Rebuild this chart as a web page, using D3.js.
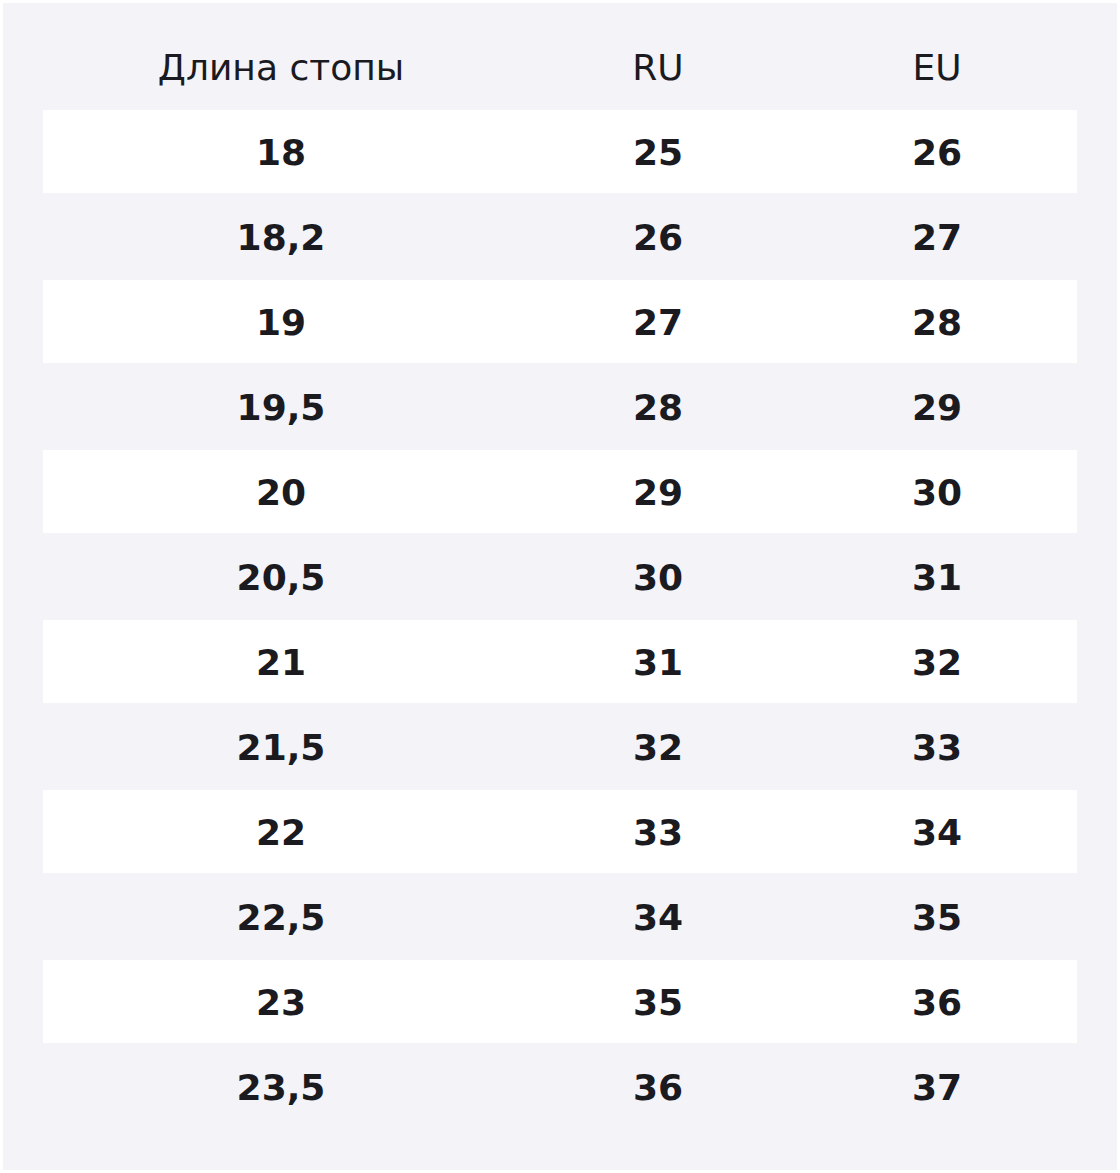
<!DOCTYPE html>
<html><head><meta charset="utf-8">
<script src="https://cdn.jsdelivr.net/npm/d3@7"></script>
<style>body{margin:0;background:#fff}</style>
</head><body>
<script>
// size table data
var headers = ["Длина стопы", "RU", "EU"];
var footLength = ["18", "18,2", "19", "19,5", "20", "20,5", "21", "21,5", "22", "22,5", "23", "23,5"];
var ruSizes = ["25", "26", "27", "28", "29", "30", "31", "32", "33", "34", "35", "36"];
var euSizes = ["26", "27", "28", "29", "30", "31", "32", "33", "34", "35", "36", "37"];

var W = 1120, H = 1173;
var svg = d3.select("body").append("svg").attr("width", W).attr("height", H);

svg.append("rect").attr("x", 3).attr("y", 3).attr("width", 1114).attr("height", 1167).attr("fill", "#f3f3f8");

var rows = d3.range(footLength.length);
var xCol = d3.scaleOrdinal().domain([0, 1, 2]).range([281, 658, 937]);

svg.selectAll("rect.row").data(rows.filter(function(i) { return i % 2 === 0; }))
	.enter().append("rect").attr("class", "row")
	.attr("x", 43).attr("width", 1034)
	.attr("y", function(i) { return 110 + i * 85; })
	.attr("height", 83)
	.attr("fill", "#ffffff");

svg.selectAll("text.head").data(headers).enter().append("text")
	.attr("x", function(d, i) { return xCol(i); })
	.attr("y", 67)
	.attr("text-anchor", "middle").attr("dominant-baseline", "central")
	.style("font-family", "DejaVu Sans").style("font-size", "36px").style("fill", "#1a1a1f")
	.text(function(d) { return d; });

var cols = [footLength, ruSizes, euSizes];
cols.forEach(function(col, c) {
	svg.selectAll("text.c" + c).data(col).enter().append("text")
		.attr("x", xCol(c))
		.attr("y", function(d, i) { return 152 + i * 85; })
		.attr("text-anchor", "middle").attr("dominant-baseline", "central")
		.style("font-family", "DejaVu Sans").style("font-weight", "bold").style("font-size", "36px").style("fill", "#1a1a1f")
		.text(function(d) { return d; });
});
</script>
</body></html>
